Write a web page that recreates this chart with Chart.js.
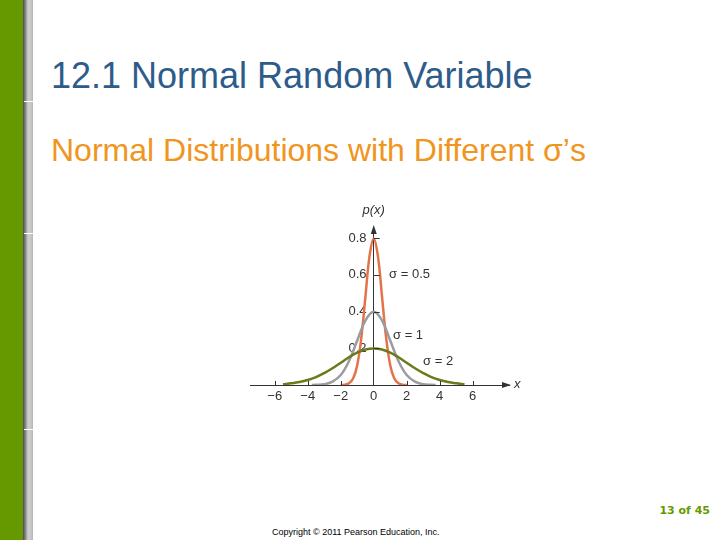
<!DOCTYPE html>
<html>
<head>
<meta charset="utf-8">
<script src="https://cdn.jsdelivr.net/npm/chart.js@4"></script>
<style>
  body { margin: 0; }
  #slide { position: relative; width: 720px; height: 540px; background: #fff; overflow: hidden; font-family: "Liberation Sans", Arial, sans-serif; }
  #bar { position: absolute; left: 0; top: 0; width: 23px; height: 540px; background: #669900; }
  #stripe { position: absolute; left: 23px; top: 0; width: 10px; height: 540px;
    background: linear-gradient(to right, #4a4a4a 0px, #7a7a7a 2px, #cfcfcf 5px, #c6c6c6 8px, #b4b4b4 10px); }
  .mark { position: absolute; left: 24px; width: 11px; height: 1px; background: #fff; }
  #title { position: absolute; left: 51px; top: 58px; font-size: 36px; line-height: 36px; color: #2e5c8a; white-space: nowrap; }
  #subtitle { position: absolute; left: 51px; top: 134px; font-size: 32px; line-height: 32px; color: #f0951e; white-space: nowrap; }
  #page { position: absolute; right: 10px; top: 504px; font: bold 11px "DejaVu Sans", sans-serif; color: #669900; }
  #copy { position: absolute; left: 272px; top: 527px; font-size: 9px; color: #000; white-space: nowrap; }
  #wrap { position: absolute; left: 230px; top: 195px; width: 300px; height: 215px; }
</style>
</head>
<body>
<div id="slide">
  <div id="bar"></div>
  <div id="stripe"></div>
  <div class="mark" style="top:101px"></div>
  <div class="mark" style="top:233px"></div>
  <div class="mark" style="top:429px"></div>
  <div id="title">12.1 Normal Random Variable</div>
  <div id="subtitle">Normal Distributions with Different σ’s</div>
  <div id="wrap"><canvas id="myGraph"></canvas></div>
  <div id="page">13 of 45</div>
  <div id="copy">Copyright © 2011 Pearson Education, Inc.</div>
</div>
<script>
// values
var halfX = [-2, -1.75, -1.5, -1.25, -1, -0.75, -0.5, -0.25, 0, 0.25, 0.5, 0.75, 1, 1.25, 1.5, 1.75, 2];
var halfY = [0, 0.002, 0.009, 0.035, 0.108, 0.259, 0.484, 0.704, 0.798, 0.704, 0.484, 0.259, 0.108, 0.035, 0.009, 0.002, 0];

var oneX = [-3.75, -3.5, -3, -2.5, -2, -1.5, -1, -0.5, 0, 0.5, 1, 1.5, 2, 2.5, 3, 3.5, 3.75];
var oneY = [0, 0.001, 0.004, 0.018, 0.054, 0.130, 0.242, 0.352, 0.399, 0.352, 0.242, 0.130, 0.054, 0.018, 0.004, 0.001, 0];

var twoX = [-5.5, -5, -4.5, -4, -3.5, -3, -2.5, -2, -1.5, -1, -0.5, 0, 0.5, 1, 1.5, 2, 2.5, 3, 3.5, 4, 4.5, 5, 5.5];
var twoY = [0.004, 0.009, 0.016, 0.027, 0.043, 0.065, 0.091, 0.121, 0.151, 0.176, 0.193, 0.199, 0.193, 0.176, 0.151, 0.121, 0.091, 0.065, 0.043, 0.027, 0.016, 0.009, 0.004];

var xTicks = [-6, -4, -2, 0, 2, 4, 6];
var yTicks = [0.2, 0.4, 0.6, 0.8];

function pts(xs, ys) {
    return xs.map(function (x, i) { return { x: x, y: ys[i] }; });
}

var axisColor = '#333333';
var fontFam = '"Liberation Sans", Arial, sans-serif';

var extras = {
    id: 'extras',
    afterDraw: function (chart, args, opts) {
        var c = chart.ctx;
        var xs = chart.scales.x, ys = chart.scales.y;
        var x0 = xs.getPixelForValue(0), y0 = ys.getPixelForValue(0);
        var top = chart.chartArea.top, right = chart.chartArea.right;
        c.save();
        c.strokeStyle = axisColor;
        c.fillStyle = axisColor;
        c.lineWidth = 1;
        // tick dashes
        yTicks.forEach(function (v) {
            var y = Math.round(ys.getPixelForValue(v)) + 0.5;
            c.beginPath(); c.moveTo(x0, y); c.lineTo(x0 + 6, y); c.stroke();
        });
        xTicks.forEach(function (v) {
            if (v === 0) return;
            var x = Math.round(xs.getPixelForValue(v)) + 0.5;
            c.beginPath(); c.moveTo(x, y0); c.lineTo(x, y0 - 4); c.stroke();
        });
        // arrow heads
        c.beginPath(); c.moveTo(x0, top - 2); c.lineTo(x0 - 3, top + 7); c.lineTo(x0 + 3, top + 7); c.closePath(); c.fill();
        c.beginPath(); c.moveTo(right + 2, y0); c.lineTo(right - 7, y0 - 3); c.lineTo(right - 7, y0 + 3); c.closePath(); c.fill();
        // axis names
        c.font = 'italic 13px ' + fontFam;
        c.textAlign = 'center';
        c.textBaseline = 'middle';
        c.fillText('p(x)', x0, top - 17);
        c.textAlign = 'left';
        c.fillText('x', right + 5, y0 - 1);
        // curve labels
        c.font = '13px ' + fontFam;
        opts.notes.forEach(function (n) {
            c.fillText(n.text, xs.getPixelForValue(n.x), ys.getPixelForValue(n.y));
        });
        c.restore();
    }
};

var ctx = document.getElementById('myGraph');
var myGraph = new Chart(ctx, {
    type: 'line',
    data: {
        datasets: [{
            label: 'σ = 2',
            data: pts(twoX, twoY),
            borderColor: '#6b7a1a',
            borderWidth: 2.5,
            pointRadius: 0,
            tension: 0.4
        }, {
            label: 'σ = 1',
            data: pts(oneX, oneY),
            borderColor: '#9b9ca2',
            borderWidth: 2.5,
            pointRadius: 0,
            tension: 0.4
        }, {
            label: 'σ = 0.5',
            data: pts(halfX, halfY),
            borderColor: '#e4734a',
            borderWidth: 2.5,
            pointRadius: 0,
            tension: 0.4
        }]
    },
    options: {
        responsive: true,
        maintainAspectRatio: false,
        animation: false,
        layout: { padding: { left: 20, top: 32, right: 21, bottom: 25 } },
        plugins: {
            legend: { display: false },
            tooltip: { enabled: false },
            extras: {
                notes: [
                    { text: 'σ = 0.5', x: 0.93, y: 0.604 },
                    { text: 'σ = 1', x: 1.17, y: 0.272 },
                    { text: 'σ = 2', x: 2.99, y: 0.131 }
                ]
            }
        },
        scales: {
            x: {
                type: 'linear',
                min: -7.5,
                max: 8.2,
                position: { y: 0 },
                afterBuildTicks: function (s) { s.ticks = xTicks.map(function (v) { return { value: v }; }); },
                grid: { display: false, drawTicks: false },
                border: { color: axisColor, width: 1 },
                ticks: {
                    padding: 4,
                    color: axisColor,
                    font: { family: fontFam, size: 13 },
                    callback: function (v) { return v < 0 ? '\u2212' + Math.abs(v) : String(v); }
                }
            },
            y: {
                type: 'linear',
                min: 0,
                max: 0.86,
                position: { x: 0 },
                afterBuildTicks: function (s) { s.ticks = yTicks.map(function (v) { return { value: v }; }); },
                grid: { display: false, drawTicks: false },
                border: { color: axisColor, width: 1 },
                ticks: {
                    color: axisColor,
                    font: { family: fontFam, size: 13 },
                    callback: function (v) { return v.toFixed(1) + '  '; }
                }
            }
        }
    },
    plugins: [extras]
});
</script>
</body>
</html>
